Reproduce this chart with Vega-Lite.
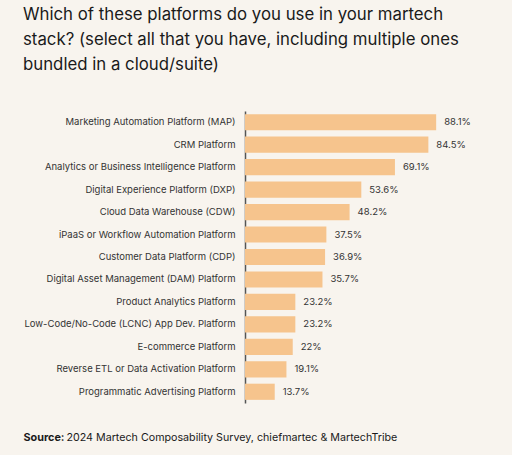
{
  "$schema": "https://vega.github.io/schema/vega-lite/v6.json",
  "autosize": {"type": "none"},
  "width": 217,
  "height": 292,
  "padding": {"left": 245, "top": 111, "right": 50, "bottom": 52},
  "background": "#f8f4ee",
  "config": {
    "view": {"stroke": null},
    "font": "Inter",
    "text": {"font": "Inter"}
  },
  "title": {
    "text": ["Which of these platforms do you use in your martech", "stack? (select all that you have, including multiple ones", "bundled in a cloud/suite)"],
    "anchor": "start",
    "frame": "group",
    "font": "Inter",
    "fontSize": 16.8,
    "fontWeight": "normal",
    "lineHeight": 25,
    "color": "#1a1a1a",
    "baseline": "top",
    "dx": -222,
    "offset": 0,
    "dy": -37
  },
  "data": {
    "values": [
      {"platform": "Marketing Automation Platform (MAP)", "pct": 88.1, "label": "88.1%"},
      {"platform": "CRM Platform", "pct": 84.5, "label": "84.5%"},
      {"platform": "Analytics or Business Intelligence Platform", "pct": 69.1, "label": "69.1%"},
      {"platform": "Digital Experience Platform (DXP)", "pct": 53.6, "label": "53.6%"},
      {"platform": "Cloud Data Warehouse (CDW)", "pct": 48.2, "label": "48.2%"},
      {"platform": "iPaaS or Workflow Automation Platform", "pct": 37.5, "label": "37.5%"},
      {"platform": "Customer Data Platform (CDP)", "pct": 36.9, "label": "36.9%"},
      {"platform": "Digital Asset Management (DAM) Platform", "pct": 35.7, "label": "35.7%"},
      {"platform": "Product Analytics Platform", "pct": 23.2, "label": "23.2%"},
      {"platform": "Low-Code/No-Code (LCNC) App Dev. Platform", "pct": 23.2, "label": "23.2%"},
      {"platform": "E-commerce Platform", "pct": 22, "label": "22%"},
      {"platform": "Reverse ETL or Data Activation Platform", "pct": 19.1, "label": "19.1%"},
      {"platform": "Programmatic Advertising Platform", "pct": 13.7, "label": "13.7%"}
    ]
  },
  "encoding": {
    "y": {
      "field": "platform",
      "type": "nominal",
      "sort": null,
      "scale": {"paddingInner": 0.28, "paddingOuter": 0.14},
      "axis": {
        "title": null,
        "ticks": false,
        "domain": true,
        "domainColor": "#555555",
        "domainWidth": 1.5,
        "labelFont": "Inter",
        "labelFontSize": 9.5,
        "labelColor": "#333333",
        "labelPadding": 10,
        "labelLimit": 300
      }
    }
  },
  "layer": [
    {
      "mark": {"type": "bar", "color": "#f6c48d"},
      "encoding": {
        "x": {
          "field": "pct",
          "type": "quantitative",
          "scale": {"domain": [0, 100]},
          "axis": {
            "orient": "bottom",
            "labels": false,
            "ticks": false,
            "domain": false,
            "grid": false,
            "title": "Source:",
            "titleFont": "Inter",
            "titleFontSize": 10.8,
            "titleFontWeight": "bold",
            "titleColor": "#1a1a1a",
            "titleAnchor": "start",
            "titleAlign": "left",
            "titleBaseline": "middle",
            "titleX": -222,
            "titleY": 34
          }
        }
      }
    },
    {
      "mark": {"type": "text", "align": "left", "dx": 8, "fontSize": 9.5, "color": "#333333", "font": "Inter"},
      "encoding": {
        "x": {
          "field": "pct",
          "type": "quantitative",
          "scale": {"domain": [0, 100]},
          "axis": {
            "orient": "bottom",
            "labels": false,
            "ticks": false,
            "domain": false,
            "grid": false,
            "title": "2024 Martech Composability Survey, chiefmartec & MartechTribe",
            "titleFont": "Inter",
            "titleFontSize": 10.7,
            "titleFontWeight": "normal",
            "titleColor": "#1a1a1a",
            "titleAnchor": "start",
            "titleAlign": "left",
            "titleBaseline": "middle",
            "titleX": -179,
            "titleY": 34
          }
        },
        "text": {"field": "label"}
      }
    }
  ],
  "resolve": {"scale": {"x": "independent"}, "axis": {"x": "independent"}}
}
